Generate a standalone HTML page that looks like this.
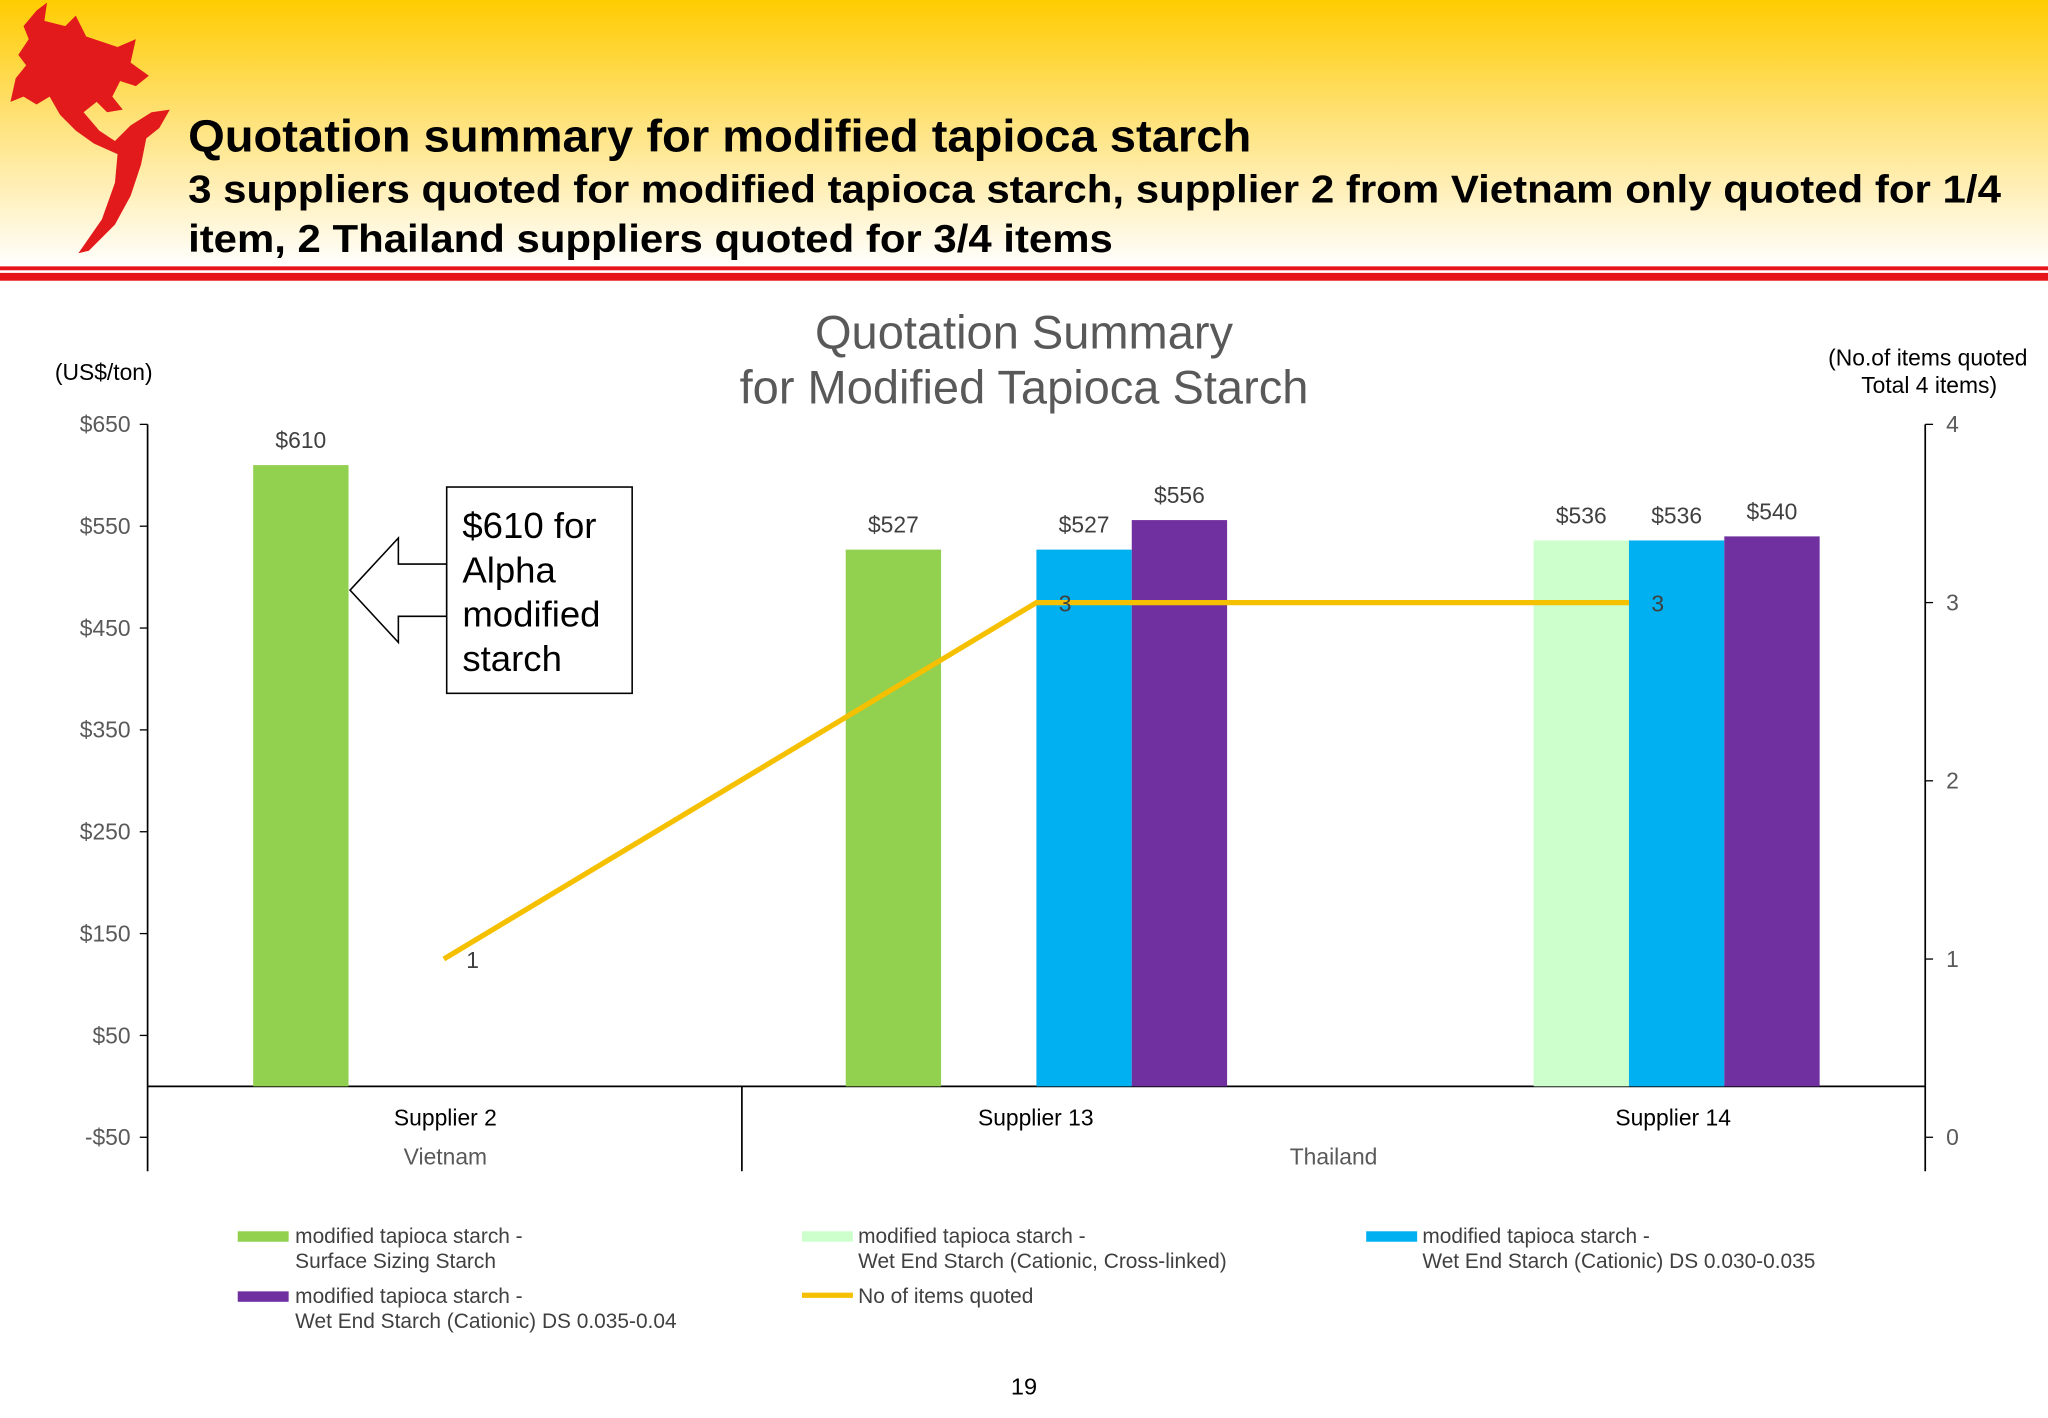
<!DOCTYPE html>
<html><head><meta charset="utf-8"><style>
html,body{margin:0;padding:0;background:#fff}
svg{display:block;font-family:"Liberation Sans",Arial,sans-serif}
</style></head><body>
<svg id="chart" width="2048" height="1418" viewBox="0 0 1568 1086" preserveAspectRatio="none" xmlns="http://www.w3.org/2000/svg">
<defs>
<linearGradient id="hdr" x1="0" y1="0" x2="0" y2="1">
<stop offset="0" stop-color="#FFCC00"/><stop offset="0.45" stop-color="#FFE27A"/><stop offset="1" stop-color="#FFFFFF"/>
</linearGradient>
</defs>
<rect x="0" y="0" width="1568" height="205" fill="url(#hdr)"/>
<rect x="0" y="204" width="1568" height="3" fill="#E8141B"/>
<rect x="0" y="209" width="1568" height="6" fill="#E8141B"/>
<path fill="#E31A1C" d="M28 8 L36 2 L34 16 L50 20 L58 12 L66 28 L90 36 L104 30 L100 48 L114 58 L104 66 L92 62 L86 74 L94 84 L82 86 L74 78 L64 86 L76 100 L88 108 L100 96 L116 86 L130 84 L122 98 L112 106 L108 126 L100 150 L88 172 L68 192 L60 194 L78 168 L88 140 L90 118 L72 110 L58 100 L46 88 L38 74 L28 80 L18 74 L8 78 L12 60 L20 50 L14 42 L22 30 L18 20 Z"/>
<text x="144" y="116" font-size="35" font-weight="bold" fill="#000" textLength="814" lengthAdjust="spacingAndGlyphs">Quotation summary for modified tapioca starch</text>
<text x="144" y="155" font-size="30" font-weight="bold" fill="#000" textLength="1388" lengthAdjust="spacingAndGlyphs">3 suppliers quoted for modified tapioca starch, supplier 2 from Vietnam only quoted for 1/4</text>
<text x="144" y="193" font-size="30" font-weight="bold" fill="#000" textLength="708" lengthAdjust="spacingAndGlyphs">item, 2 Thailand suppliers quoted for 3/4 items</text>

<text x="784" y="267" font-size="36" fill="#595959" text-anchor="middle">Quotation Summary</text>
<text x="784" y="309" font-size="36" fill="#595959" text-anchor="middle">for Modified Tapioca Starch</text>
<text x="42" y="291" font-size="17.5" fill="#000">(US$/ton)</text>
<text x="1476" y="280" font-size="17.5" fill="#000" text-anchor="middle">(No.of items quoted</text>
<text x="1477" y="301" font-size="17.5" fill="#000" text-anchor="middle">Total 4 items)</text>

<g id="axes"></g>
<g id="marks"></g>

<g>
<polygon points="342,432 305,432 305,412 268,452 305,492 305,472 342,472" fill="#fff" stroke="#000" stroke-width="1.2"/>
<rect x="342" y="373" width="142" height="158" fill="#fff" stroke="#000" stroke-width="1.2"/>
<text font-size="28" fill="#000">
<tspan x="354" y="412">$610 for</tspan><tspan x="354" y="446">Alpha</tspan><tspan x="354" y="480">modified</tspan><tspan x="354" y="514">starch</tspan></text>
</g>

<g>
<rect x="182" y="943" width="39" height="8" fill="#92D050"/>
<text font-size="16" fill="#404040"><tspan x="226" y="952">modified tapioca starch -</tspan><tspan x="226" y="971">Surface Sizing Starch</tspan></text>
<rect x="614" y="943" width="39" height="8" fill="#CCFFCC"/>
<text font-size="16" fill="#404040"><tspan x="657" y="952">modified tapioca starch -</tspan><tspan x="657" y="971">Wet End Starch (Cationic, Cross-linked)</tspan></text>
<rect x="1046" y="943" width="39" height="8" fill="#00B0F0"/>
<text font-size="16" fill="#404040"><tspan x="1089" y="952">modified tapioca starch -</tspan><tspan x="1089" y="971">Wet End Starch (Cationic) DS 0.030-0.035</tspan></text>
<rect x="182" y="989" width="39" height="8" fill="#7030A0"/>
<text font-size="16" fill="#404040"><tspan x="226" y="998">modified tapioca starch -</tspan><tspan x="226" y="1017">Wet End Starch (Cationic) DS 0.035-0.04</tspan></text>
<rect x="614" y="990" width="39" height="4" fill="#F5C000"/>
<text x="657" y="998" font-size="16" fill="#404040">No of items quoted</text>
</g>
<text x="784" y="1068" font-size="18" fill="#000" text-anchor="middle">19</text>
</svg>
<script>
const categories = ["Supplier 2", "Supplier 13", "Supplier 14"];
const countries = ["Vietnam", "Thailand"];
const surfaceSizing = [610, 527, null];
const crossLinked = [null, null, 536];
const ds030 = [null, 527, 536];
const ds035 = [null, 556, 540];
const itemsQuoted = [1, 3, 3];
const leftTicks = [-50, 50, 150, 250, 350, 450, 550, 650];
const rightTicks = [0, 1, 2, 3, 4];

const NS = "http://www.w3.org/2000/svg";
const X0 = 113, X1 = 1474, BOTTOM = 897;
const yL = v => 832 - v * 0.78;
const yR = v => 871 - v * 136.5;
const catW = (X1 - X0) / categories.length;
const cx = i => X0 + catW * (i + 0.5);
const slotW = 73;
const slotX = (i, s) => cx(i) - 2 * slotW + s * slotW;
function mk(tag, attrs, parent) {
  const e = document.createElementNS(NS, tag);
  for (const k in attrs) e.setAttribute(k, attrs[k]);
  parent.appendChild(e);
  return e;
}
const axes = document.getElementById('axes');
const marks = document.getElementById('marks');

let e = mk('line', {x1: X0, y1: 325, x2: X0, y2: BOTTOM, stroke: '#000', 'stroke-width': 1.3}, axes);


e = mk('line', {x1: X1, y1: 325, x2: X1, y2: BOTTOM, stroke: '#000', 'stroke-width': 1.3}, axes);


e = mk('line', {x1: X0, y1: yL(0), x2: X1, y2: yL(0), stroke: '#000', 'stroke-width': 1.3}, axes);


e = mk('line', {x1: 568, y1: yL(0), x2: 568, y2: BOTTOM, stroke: '#000', 'stroke-width': 1.3}, axes);



leftTicks.forEach(v => {
  const y = yL(v);
  let t = mk('line', {x1: X0 - 6, y1: y, x2: X0, y2: y, stroke: '#000', 'stroke-width': 1}, axes);
  
  
  t = mk('text', {x: 100, y: y + 6, 'font-size': 17.5, fill: '#595959', 'text-anchor': 'end'}, axes);
  
  
  t.textContent = (v < 0 ? '-$' : '$') + Math.abs(v);
});
rightTicks.forEach(v => {
  const y = yR(v);
  let t = mk('line', {x1: X1, y1: y, x2: X1 + 6, y2: y, stroke: '#000', 'stroke-width': 1}, axes);
  
  
  t = mk('text', {x: 1490, y: y + 6, 'font-size': 17.5, fill: '#595959'}, axes);
  
  
  t.textContent = v;
});
const catLabelX = [341, 793, 1281];
categories.forEach((c, i) => {
  const t = mk('text', {x: catLabelX[i], y: 862, 'font-size': 17.5, fill: '#000', 'text-anchor': 'middle'}, axes);
  
  
  t.textContent = c;
});
const countryX = [341, 1021];
countries.forEach((c, i) => {
  const t = mk('text', {x: countryX[i], y: 892, 'font-size': 17.5, fill: '#595959', 'text-anchor': 'middle'}, axes);
  
  
  t.textContent = c;
});

const series = [
  {vals: surfaceSizing, color: '#92D050', slot: 0, name: 'bar-surface-sizing'},
  {vals: crossLinked, color: '#CCFFCC', slot: 1, name: 'bar-cross-linked'},
  {vals: ds030, color: '#00B0F0', slot: 2, name: 'bar-ds-030'},
  {vals: ds035, color: '#7030A0', slot: 3, name: 'bar-ds-035'}
];
series.forEach(s => {
  s.vals.forEach((v, i) => {
    if (v === null) return;
    const x = slotX(i, s.slot);
    const r = mk('rect', {x: x, y: yL(v), width: slotW, height: yL(0) - yL(v), fill: s.color}, marks);
    
    
    const t = mk('text', {x: x + slotW / 2, y: yL(v) - 13, 'font-size': 17.5, fill: '#404040', 'text-anchor': 'middle'}, marks);
    
    
    t.textContent = '$' + v;
  });
});
const pts = itemsQuoted.map((v, i) => cx(i) + ',' + yR(v)).join(' ');
const pl = mk('polyline', {points: pts, fill: 'none', stroke: '#F5C000', 'stroke-width': 4, 'stroke-linejoin': 'round'}, marks);


itemsQuoted.forEach((v, i) => {
  const t = mk('text', {x: cx(i) + 22, y: yR(v) + 7, 'font-size': 17.5, fill: '#404040', 'text-anchor': 'middle'}, marks);
  
  
  t.textContent = v;
});
</script>
</body></html>
